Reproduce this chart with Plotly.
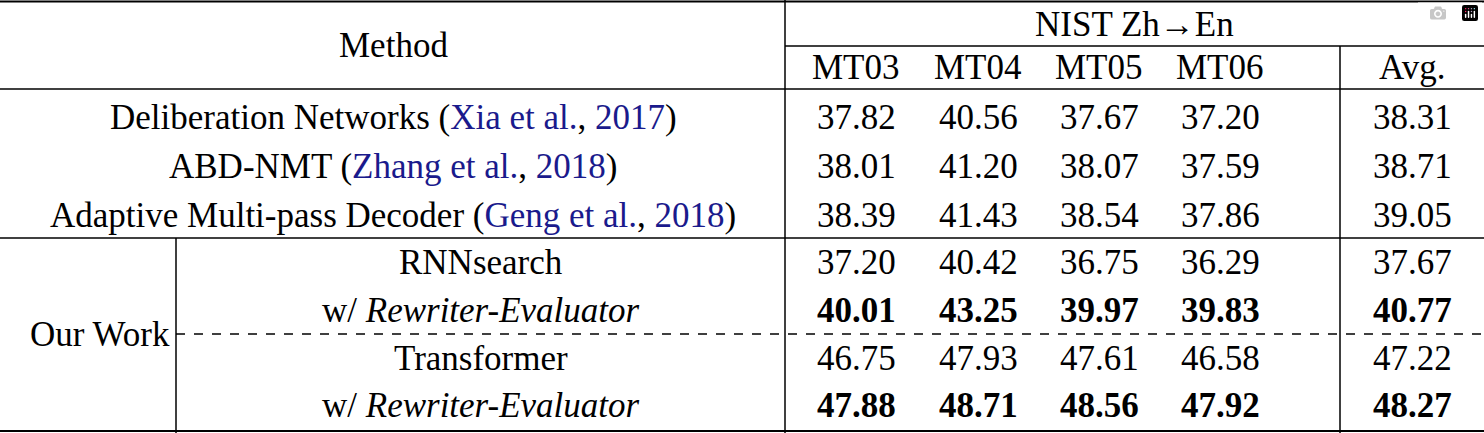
import plotly.graph_objects as go

W, H = 1484, 433
BLUE = "#1a1a8c"

columns = ["MT03", "MT04", "MT05", "MT06", "Avg."]
baselines = [
    ("Deliberation Networks (", "Xia et al.", ", ", "2017", ")"),
    ("ABD-NMT (", "Zhang et al.", ", ", "2018", ")"),
    ("Adaptive Multi-pass Decoder (", "Geng et al.", ", ", "2018", ")"),
]
baseline_scores = [
    [37.82, 40.56, 37.67, 37.20, 38.31],
    [38.01, 41.20, 38.07, 37.59, 38.71],
    [38.39, 41.43, 38.54, 37.86, 39.05],
]
our_methods = ["RNNsearch", "w/ <i>Rewriter-Evaluator</i>",
               "Transformer", "w/ <i>Rewriter-Evaluator</i>"]
our_scores = [
    [37.20, 40.42, 36.75, 36.29, 37.67],
    [40.01, 43.25, 39.97, 39.83, 40.77],
    [46.75, 47.93, 47.61, 46.58, 47.22],
    [47.88, 48.71, 48.56, 47.92, 48.27],
]
our_bold = [False, True, False, True]

# layout geometry (pixels)
col_x = [856, 978, 1099, 1220, 1412]
row_y = [117, 166, 215, 262, 310, 358, 405]
FS = 35

fig = go.Figure()
ann = []

def text(x, y, s):
    ann.append(dict(x=x, y=y, text=s, showarrow=False, xref="x", yref="y",
                    font=dict(size=FS, color="black", family="Liberation Serif")))

text(393, 45, "Method")
text(1134, 24, "NIST Zh→En")
for cx, c in zip(col_x, columns):
    text(cx, 67, c)

for i, (a, b, c, d, e) in enumerate(baselines):
    s = f"{a}<span style='color:{BLUE}'>{b}</span>{c}<span style='color:{BLUE}'>{d}</span>{e}"
    text(393, row_y[i], s)
    for cx, v in zip(col_x, baseline_scores[i]):
        text(cx, row_y[i], f"{v:.2f}")

text(100, 334, "Our Work")
for j, m in enumerate(our_methods):
    y = row_y[3 + j]
    text(481, y, m)
    for cx, v in zip(col_x, our_scores[j]):
        text(cx, y, f"<b>{v:.2f}</b>" if our_bold[j] else f"{v:.2f}")

shapes = []
def line(x0, y0, x1, y1, dash="solid", w=1.5):
    shapes.append(dict(type="line", x0=x0, y0=y0, x1=x1, y1=y1, xref="x", yref="y",
                       line=dict(color="black", width=w, dash=dash)))

line(0, 1.5, W, 1.5, w=2)
line(785, 46, W, 46)
line(0, 89, W, 89)
line(0, 238, W, 238)
line(0, 431, W, 431, w=2)
line(785, 0, 785, H)
line(1340, 46, 1340, H)
line(176, 238, 176, H)
line(176, 334, W, 334, dash="dash")

fig.update_layout(
    width=W, height=H, margin=dict(l=0, r=0, t=0, b=0),
    paper_bgcolor="white", plot_bgcolor="white",
    xaxis=dict(range=[0, W], visible=False, fixedrange=True),
    yaxis=dict(range=[H, 0], visible=False, fixedrange=True),
    annotations=ann, shapes=shapes, showlegend=False,
)
# drop the page's default body margin so the table fills the window
fig.write_html("out.html", post_script="document.body.style.margin='0';")
